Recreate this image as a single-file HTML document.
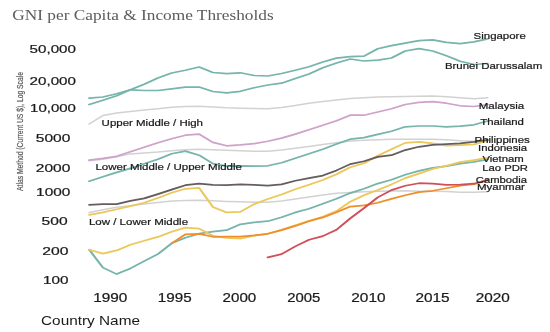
<!DOCTYPE html>
<html><head><meta charset="utf-8"><title>GNI per Capita &amp; Income Thresholds</title>
<style>
html,body{margin:0;padding:0;background:#fff;}
svg{display:block}
.s{font-family:"Liberation Sans",Arial,sans-serif;stroke:#1a1a1a;stroke-width:0.22px}
.f{font-family:"Liberation Serif","Times New Roman",serif}
path{fill:none;stroke-linejoin:round;stroke-linecap:round}
</style></head><body>
<svg width="550" height="332" viewBox="0 0 550 332">
<rect width="550" height="332" fill="#fff"/>
<g transform="scale(1.37,1)">
<path d="M65.11,124.0 L75.14,115.5 L85.17,113.0 L95.2,111.5 L105.23,110.0 L115.26,108.7 L125.28,107.2 L135.31,106.5 L145.34,106.2 L155.37,107.0 L165.4,107.8 L175.43,108.2 L185.46,108.5 L195.49,108.8 L205.52,107.5 L215.55,105.5 L225.58,103.2 L235.61,101.5 L245.64,100.0 L255.66,98.5 L265.69,97.7 L275.72,97.0 L285.75,96.8 L295.78,96.5 L305.81,96.2 L315.84,96.0 L325.87,96.7 L335.9,97.7 L345.93,98.8 L355.96,97.8" stroke="#d2d2d2" stroke-width="1.5"/>
<path d="M65.11,160.8 L75.14,159.2 L85.17,156.8 L95.2,153.9 L105.23,152.9 L115.26,152.1 L125.28,150.7 L135.31,149.7 L145.34,149.2 L155.37,149.8 L165.4,150.3 L175.43,150.8 L185.46,151.2 L195.49,151.3 L205.52,150.1 L215.55,148.3 L225.58,146.4 L235.61,144.6 L245.64,142.8 L255.66,140.9 L265.69,140.2 L275.72,139.8 L285.75,139.3 L295.78,139.2 L305.81,139.2 L315.84,139.2 L325.87,139.8 L335.9,140.8 L345.93,141.2 L355.96,140.4" stroke="#d2d2d2" stroke-width="1.5"/>
<path d="M65.11,212.4 L75.14,209.8 L85.17,207.3 L95.2,205.7 L105.23,204.1 L115.26,202.4 L125.28,200.9 L135.31,200.4 L145.34,200.2 L155.37,200.8 L165.4,201.4 L175.43,201.8 L185.46,202.2 L195.49,202.3 L205.52,201.1 L215.55,199.1 L225.58,196.9 L235.61,195.1 L245.64,193.3 L255.66,192.6 L265.69,191.8 L275.72,191.3 L285.75,190.9 L295.78,190.8 L305.81,191.2 L315.84,191.3 L325.87,191.6 L335.9,192.2 L345.93,192.2 L355.96,191.8" stroke="#d2d2d2" stroke-width="1.5"/>
<path d="M65.11,98.2 L75.14,97.0 L85.17,93.7 L95.2,89.8 L105.23,90.5 L115.26,90.5 L125.28,88.8 L135.31,87.2 L145.34,87.0 L155.37,91.5 L165.4,92.8 L175.43,91.3 L185.46,87.8 L195.49,85.0 L205.52,83.2 L215.55,78.5 L225.58,74.0 L235.61,67.8 L245.64,63.0 L255.66,59.0 L265.69,61.0 L275.72,60.1 L285.75,58.0 L295.78,51.0 L305.81,48.6 L315.84,51.0 L325.87,55.8 L335.9,61.2 L345.93,64.5 L355.96,63.5" stroke="#76b4ac" stroke-width="1.7"/>
<path d="M65.11,104.5 L75.14,100.2 L85.17,95.8 L95.2,89.8 L105.23,84.2 L115.26,78.0 L125.28,73.0 L135.31,70.3 L145.34,67.0 L155.37,72.5 L165.4,73.7 L175.43,72.8 L185.46,75.5 L195.49,76.0 L205.52,73.5 L215.55,70.2 L225.58,66.7 L235.61,62.0 L245.64,58.1 L255.66,56.6 L265.69,56.1 L275.72,48.8 L285.75,45.6 L295.78,43.1 L305.81,40.6 L315.84,39.9 L325.87,42.4 L335.9,43.6 L345.93,41.9 L355.96,38.9" stroke="#76b4ac" stroke-width="1.7"/>
<path d="M65.11,160.2 L75.14,158.4 L85.17,156.3 L95.2,151.7 L105.23,147.2 L115.26,142.8 L125.28,138.8 L135.31,135.2 L145.34,134.1 L155.37,142.4 L165.4,145.8 L175.43,144.9 L185.46,143.7 L195.49,141.2 L205.52,138.1 L215.55,134.1 L225.58,129.7 L235.61,125.3 L245.64,120.8 L255.66,115.2 L265.69,115.2 L275.72,112.0 L285.75,108.8 L295.78,104.5 L305.81,102.3 L315.84,101.7 L325.87,103.2 L335.9,105.8 L345.93,106.5 L355.96,104.5" stroke="#cfa2c9" stroke-width="1.7"/>
<path d="M65.11,181.2 L75.14,176.7 L85.17,172.4 L95.2,168.4 L105.23,163.8 L115.26,159.3 L125.28,153.8 L135.31,151.1 L145.34,155.2 L155.37,163.6 L165.4,166.1 L175.43,165.8 L185.46,166.1 L195.49,165.8 L205.52,162.8 L215.55,158.2 L225.58,153.8 L235.61,149.2 L245.64,144.1 L255.66,139.2 L265.69,137.6 L275.72,134.4 L285.75,131.2 L295.78,126.8 L305.81,126.0 L315.84,126.0 L325.87,126.8 L335.9,126.2 L345.93,124.8 L355.96,121.0" stroke="#76b4ac" stroke-width="1.7"/>
<path d="M65.11,214.9 L75.14,212.4 L85.17,209.3 L95.2,206.1 L105.23,202.8 L115.26,197.9 L125.28,192.8 L135.31,188.8 L145.34,187.8 L155.37,206.9 L165.4,212.4 L175.43,211.9 L185.46,204.2 L195.49,199.1 L205.52,194.4 L215.55,189.3 L225.58,184.8 L235.61,180.1 L245.64,174.2 L255.66,167.2 L265.69,163.3 L275.72,155.7 L285.75,149.3 L295.78,142.9 L305.81,141.8 L315.84,143.4 L325.87,145.6 L335.9,145.1 L345.93,144.4 L355.96,140.7" stroke="#ecc75a" stroke-width="1.7"/>
<path d="M65.11,204.8 L75.14,204.2 L85.17,204.1 L95.2,200.9 L105.23,198.4 L115.26,194.1 L125.28,189.6 L135.31,185.2 L145.34,183.7 L155.37,184.9 L165.4,185.2 L175.43,184.4 L185.46,184.9 L195.49,185.7 L205.52,184.4 L215.55,180.7 L225.58,178.1 L235.61,175.6 L245.64,170.4 L255.66,164.1 L265.69,161.2 L275.72,156.9 L285.75,155.2 L295.78,150.1 L305.81,146.8 L315.84,144.8 L325.87,144.2 L335.9,143.4 L345.93,141.8 L355.96,139.8" stroke="#655d5d" stroke-width="1.7"/>
<path d="M65.11,249.7 L75.14,267.6 L85.17,274.1 L95.2,268.4 L105.23,261.1 L115.26,254.1 L125.28,243.3 L135.31,237.8 L145.34,233.7 L155.37,231.7 L165.4,230.2 L175.43,224.3 L185.46,222.4 L195.49,221.2 L205.52,217.3 L215.55,212.4 L225.58,208.7 L235.61,203.8 L245.64,198.7 L255.66,193.1 L265.69,188.8 L275.72,183.6 L285.75,179.8 L295.78,174.8 L305.81,170.9 L315.84,167.9 L325.87,166.1 L335.9,163.6 L345.93,161.8 L355.96,159.4" stroke="#76b4ac" stroke-width="1.7"/>
<path d="M65.11,249.7 L75.14,253.6 L85.17,250.4 L95.2,244.7 L105.23,240.8 L115.26,236.9 L125.28,231.8 L135.31,227.6 L145.34,228.6 L155.37,235.8 L165.4,237.8 L175.43,238.7 L185.46,235.7 L195.49,233.8 L205.52,229.8 L215.55,225.2 L225.58,220.7 L235.61,216.7 L245.64,211.1 L255.66,201.7 L265.69,195.2 L275.72,190.1 L285.75,184.4 L295.78,178.1 L305.81,173.6 L315.84,168.9 L325.87,165.7 L335.9,162.1 L345.93,160.2 L355.96,157.8" stroke="#ecc75a" stroke-width="1.7"/>
<path d="M125.28,243.3 L135.31,234.4 L145.34,233.9 L155.37,236.8 L165.4,236.6 L175.43,236.6 L185.46,235.4 L195.49,233.8 L205.52,230.1 L215.55,225.9 L225.58,221.2 L235.61,217.4 L245.64,212.2 L255.66,206.6 L265.69,205.4 L275.72,202.8 L285.75,198.9 L295.78,195.2 L305.81,192.1 L315.84,190.8 L325.87,188.2 L335.9,185.6 L345.93,184.2 L355.96,180.4" stroke="#ef8e2c" stroke-width="1.7"/>
<path d="M195.49,257.4 L205.52,254.1 L215.55,246.4 L225.58,239.8 L235.61,236.1 L245.64,229.7 L255.66,218.4 L265.69,208.1 L275.72,197.4 L285.75,190.1 L295.78,185.8 L305.81,183.2 L315.84,183.7 L325.87,184.9 L335.9,184.7 L345.93,183.7 L355.96,179.8" stroke="#d0505a" stroke-width="1.7"/>
</g>
<g>
<text class="f" x="12.3" y="20.4" font-size="14.4" fill="#5c5c5c" textLength="261.4" lengthAdjust="spacingAndGlyphs">GNI per Capita &amp; Income Thresholds</text>
<text class="s" x="29.6" y="53.3" font-size="11.4" fill="#1a1a1a" textLength="46.3" lengthAdjust="spacingAndGlyphs">50,000</text>
<text class="s" x="29.6" y="84.8" font-size="11.4" fill="#1a1a1a" textLength="46.3" lengthAdjust="spacingAndGlyphs">20,000</text>
<text class="s" x="30.1" y="112.2" font-size="11.4" fill="#1a1a1a" textLength="45.8" lengthAdjust="spacingAndGlyphs">10,000</text>
<text class="s" x="35.8" y="142" font-size="11.4" fill="#1a1a1a" textLength="34.5" lengthAdjust="spacingAndGlyphs">5000</text>
<text class="s" x="35.8" y="172.4" font-size="11.4" fill="#1a1a1a" textLength="34.5" lengthAdjust="spacingAndGlyphs">2000</text>
<text class="s" x="36.1" y="196" font-size="11.4" fill="#1a1a1a" textLength="34.2" lengthAdjust="spacingAndGlyphs">1000</text>
<text class="s" x="41.6" y="224.7" font-size="11.4" fill="#1a1a1a" textLength="26.0" lengthAdjust="spacingAndGlyphs">500</text>
<text class="s" x="42.2" y="254.5" font-size="11.4" fill="#1a1a1a" textLength="26.2" lengthAdjust="spacingAndGlyphs">200</text>
<text class="s" x="42.9" y="284.4" font-size="11.4" fill="#1a1a1a" textLength="25.5" lengthAdjust="spacingAndGlyphs">100</text>
<text class="s" x="93.2" y="301.8" font-size="12" fill="#1a1a1a" textLength="34.1" lengthAdjust="spacingAndGlyphs">1990</text>
<text class="s" x="157.8" y="301.8" font-size="12" fill="#1a1a1a" textLength="33.8" lengthAdjust="spacingAndGlyphs">1995</text>
<text class="s" x="222.6" y="301.8" font-size="12" fill="#1a1a1a" textLength="33.7" lengthAdjust="spacingAndGlyphs">2000</text>
<text class="s" x="287.2" y="301.8" font-size="12" fill="#1a1a1a" textLength="33.1" lengthAdjust="spacingAndGlyphs">2005</text>
<text class="s" x="351.3" y="301.8" font-size="12" fill="#1a1a1a" textLength="34.2" lengthAdjust="spacingAndGlyphs">2010</text>
<text class="s" x="415.5" y="301.8" font-size="12" fill="#1a1a1a" textLength="34.1" lengthAdjust="spacingAndGlyphs">2015</text>
<text class="s" x="475.8" y="301.8" font-size="12" fill="#1a1a1a" textLength="34.1" lengthAdjust="spacingAndGlyphs">2020</text>
<text class="s" x="41" y="325" font-size="12.6" fill="#1a1a1a" textLength="99" lengthAdjust="spacingAndGlyphs" style="stroke:none">Country Name</text>
<text class="s" x="473.6" y="39.4" font-size="9.7" fill="#1a1a1a" textLength="52.2" lengthAdjust="spacingAndGlyphs">Singapore</text>
<text class="s" x="444.9" y="69.0" font-size="9.7" fill="#1a1a1a" textLength="97.4" lengthAdjust="spacingAndGlyphs">Brunei Darussalam</text>
<text class="s" x="478.7" y="109.2" font-size="9.7" fill="#1a1a1a" textLength="45.5" lengthAdjust="spacingAndGlyphs">Malaysia</text>
<text class="s" x="480.2" y="124.6" font-size="9.7" fill="#1a1a1a" textLength="43.8" lengthAdjust="spacingAndGlyphs">Thailand</text>
<text class="s" x="474.5" y="142.9" font-size="9.7" fill="#1a1a1a" textLength="55.3" lengthAdjust="spacingAndGlyphs">Philippines</text>
<text class="s" x="478" y="150.9" font-size="9.7" fill="#1a1a1a" textLength="49.1" lengthAdjust="spacingAndGlyphs">Indonesia</text>
<text class="s" x="482.4" y="161.6" font-size="9.7" fill="#1a1a1a" textLength="41.4" lengthAdjust="spacingAndGlyphs">Vietnam</text>
<text class="s" x="482.2" y="170.6" font-size="9.7" fill="#1a1a1a" textLength="45.8" lengthAdjust="spacingAndGlyphs">Lao PDR</text>
<text class="s" x="475.8" y="182.7" font-size="9.7" fill="#1a1a1a" textLength="51.3" lengthAdjust="spacingAndGlyphs">Cambodia</text>
<text class="s" x="476.9" y="190.0" font-size="9.7" fill="#1a1a1a" textLength="48.0" lengthAdjust="spacingAndGlyphs">Myanmar</text>
<text class="s" x="101.6" y="126.2" font-size="9.7" fill="#1a1a1a" textLength="101.4" lengthAdjust="spacingAndGlyphs">Upper Middle / High</text>
<text class="s" x="95.4" y="170.1" font-size="9.7" fill="#1a1a1a" textLength="146.6" lengthAdjust="spacingAndGlyphs">Lower Middle / Upper Middle</text>
<text class="s" x="88.9" y="224.6" font-size="9.7" fill="#1a1a1a" textLength="99.2" lengthAdjust="spacingAndGlyphs">Low / Lower Middle</text>
<g transform="translate(23.2,191) rotate(-90) scale(1,1.37)"><text class="s" x="0" y="0" font-size="6.2" fill="#5a5a5a" style="stroke:#5a5a5a;stroke-width:0.15px" textLength="119" lengthAdjust="spacingAndGlyphs">Atlas Method (Current US $), Log Scale</text></g>
</g>
</svg>
</body></html>
